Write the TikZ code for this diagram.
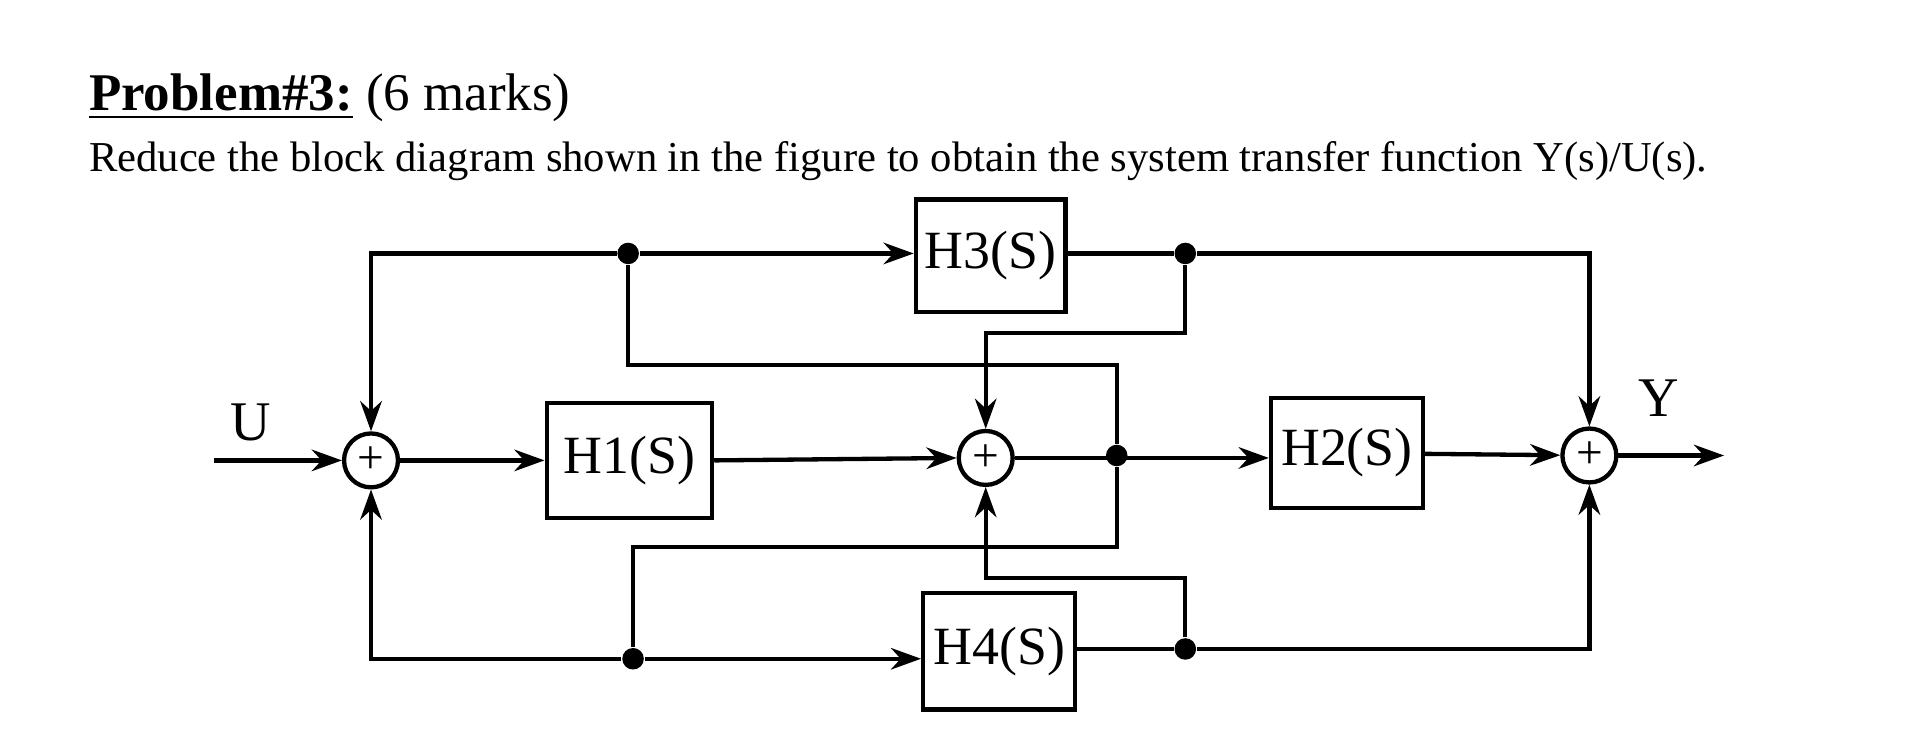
\documentclass[tikz,border=0pt]{standalone}
\usepackage{fontspec}
\setmainfont{Liberation Serif}
\usetikzlibrary{arrows.meta}
\begin{document}
\begin{tikzpicture}[x=0.01cm,y=-0.01cm,
  blk/.style={draw,line width=1pt,minimum width=#1,inner sep=0pt,font=\fontsize{12.5}{15}\selectfont},
  sumc/.style={draw,circle,line width=1pt,minimum size=0.44cm,inner sep=0pt,font=\fontsize{11}{12}\selectfont},
  ln/.style={line width=1pt},
  ar/.style={line width=1pt,-{Stealth[length=7pt,width=5pt]}},
  dot/.style={circle,fill,inner sep=0pt,minimum size=5pt}]
\useasboundingbox (0,0) rectangle (1568,607);
\node[anchor=base west,inner sep=0pt,font=\fontsize{12.3}{14}\selectfont] (t1) at (72,90) {\underline{\textbf{Problem\#3:}} (6 marks)};
\node[anchor=base west,inner sep=0pt,font=\fontsize{9.9}{12}\selectfont] (t2) at (72,140) {Reduce the block diagram shown in the figure to obtain the system transfer function Y(s)/U(s).};
\node[sumc] (s1) at (303,376) {+};
\node[sumc] (s2) at (805,374) {+};
\node[sumc] (s3) at (1298,372) {+};
\node[blk, minimum width=1.35cm, minimum height=0.94cm] (h1) at (514,376) {H1(S)};
\node[blk, minimum width=1.24cm, minimum height=0.90cm] (h2) at (1100,370) {H2(S)};
\node[blk, minimum width=1.22cm, minimum height=0.92cm] (h3) at (809,209) {H3(S)};
\node[blk, minimum width=1.24cm, minimum height=0.95cm] (h4) at (816,532) {H4(S)};
\node[font=\fontsize{13}{15}\selectfont] (u) at (205,345) {U};
\node[font=\fontsize{13}{15}\selectfont] (y) at (1355,325) {Y};
\coordinate (uin) at (175,376);
\coordinate (yout) at (1408,372);
\node[dot] (d1) at (513,207) {};
\node[dot] (d2) at (968,207) {};
\node[dot] (d3) at (912,372) {};
\node[dot] (d4) at (517,538) {};
\node[dot] (d5) at (968,530) {};
\draw[ar] (uin) -- (s1);
\draw[ar] (s1) -- (h1);
\draw[ar] (h1.east) -- (s2.west);
\draw[ar] (s2.east) -- (h2.west |- s2);
\draw[ar] (h2) -- (s3);
\draw[ar] (s3.east) -- (yout);
\draw[ar] (d1) -- (303,207) -- (s1.north);
\draw[ar] (d1) -- (h3.west |- d1);
\draw[ar] (d4) -- (303,538) -- (s1.south);
\draw[ar] (d4) -- (h4.west |- d4);
\draw[ln] (h3.east |- d2) -- (d2);
\draw[ar] (d2) -- (1298,207) -- (s3.north);
\draw[ar] (d2) -- (968,272) -- (805,272) -- (s2.north);
\draw[ln] (h4.east |- d5) -- (d5);
\draw[ar] (d5) -- (1298,530) -- (s3.south);
\draw[ar] (d5) -- (968,472) -- (805,472) -- (s2.south);
\draw[ln] (d3) -- (912,298) -- (513,298) -- (d1);
\draw[ln] (d3) -- (912,447) -- (517,447) -- (d4);
\end{tikzpicture}
\end{document}
